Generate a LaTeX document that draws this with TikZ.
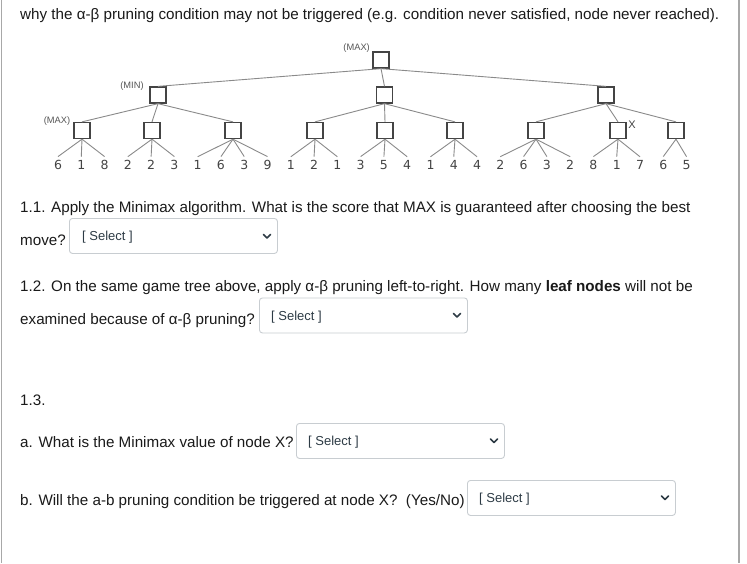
\documentclass[tikz,border=0pt]{standalone}
\usepackage{fontspec}
\setmainfont{Liberation Sans}
\newfontfamily\leaffont{DejaVu Sans}
\definecolor{txtc}{HTML}{1A1A1A}
\definecolor{bordc}{HTML}{A8A8A8}
\definecolor{sqc}{HTML}{444444}
\definecolor{edgec}{HTML}{8A8A8A}
\definecolor{lblc}{HTML}{555555}
\definecolor{selbord}{HTML}{C8CDD1}
\definecolor{seltxt}{HTML}{2D3B45}
\tikzset{
  txt/.style={anchor=base west, inner sep=0, text=txtc, font=\fontsize{15.2}{18}\selectfont},
  sq/.style={draw=sqc, line width=1.3pt, fill=white, minimum size=16pt, inner sep=0},
  leaf/.style={text=sqc, font=\leaffont\fontsize{12.5}{14}\selectfont, inner xsep=1pt, inner ysep=3.5pt},
  tlabel/.style={text=lblc, font=\fontsize{9.3}{10}\selectfont, inner sep=0},
  edge/.style={draw=edgec, line width=0.9pt},
  selbox/.style={draw=selbord, line width=0.9pt, rounded corners=3pt, fill=white, minimum width=208pt, minimum height=35pt, anchor=north west, inner sep=0},
  seltext/.style={anchor=base west, inner sep=0, text=seltxt, font=\fontsize{13}{15}\selectfont},
  chev/.style={draw=seltxt, line width=1.7pt, line cap=round, line join=round}
}
\begin{document}
\begin{tikzpicture}[x=1pt,y=-1pt]
\useasboundingbox (0,0) rectangle (747,563);
\fill[white] (0,0) rectangle (747,563);
\draw[bordc, line width=1.5pt] (1.5,0) -- (1.5,563);
\draw[bordc, line width=1.5pt] (739,0) -- (739,563);

\node[txt] (t0) at (20,19) {why the α-β pruning condition may not be triggered (e.g. condition never satisfied, node never reached).};

% tree
\node[sq] (r) at (381,60) {};
\node[tlabel, anchor=east] (rl) at (370,48.5) {(MAX)};
\node[sq] (n1) at (158,95) {};
\node[sq] (n2) at (384.5,95) {};
\node[sq] (n3) at (606,95) {};
\node[tlabel] (n1l) at (132,86) {(MIN)};
\foreach \i/\x in {1/82,2/152,3/233,4/315,5/385,6/455,7/536,8/618,9/676} {
  \node[sq] (m\i) at (\x,130.5) {};
}
\node[tlabel] (m1l) at (57,121) {(MAX)};
\node[text=sqc, font=\fontsize{11}{12}\selectfont, inner sep=0] (xl) at (632,125) {X};

\foreach \c in {n1,n2,n3} { \draw[edge] (r.south) -- (\c.north); }
\foreach \c in {m1,m2,m3} { \draw[edge] (n1.south) -- (\c.north); }
\foreach \c in {m4,m5,m6} { \draw[edge] (n2.south) -- (\c.north); }
\foreach \c in {m7,m8,m9} { \draw[edge] (n3.south) -- (\c.north); }

\foreach \v [count=\k from 0] in {6,1,8,2,2,3,1,6,3,9,1,2,1,3,5,4,1,4,4,2,6,3,2,8,1,7,6,5} {
  \node[leaf] (l\k) at ({58+23.28*\k},165) {\v};
}
\foreach \p/\a/\b in {m1/0/2,m2/3/5,m3/6/9,m4/10/12,m5/13/15,m6/16/18,m7/19/22,m8/23/25,m9/26/27} {
  \foreach \k in {\a,...,\b} { \draw[edge] (\p.south) -- (l\k.north); }
}

% question 1.1
\node[txt] (q1) at (20,212) {1.1. Apply the Minimax algorithm. What is the score that MAX is guaranteed after choosing the best};
\node[txt] (q1b) at (20,245.5) {move?};
\node[selbox] (s1) at (69,218) {};
\node[seltext] (s1t) at (82,240.5) {[ Select ]};
\draw[chev] (263.5,234.5) -- (267,238) -- (270.5,234.5);

% question 1.2
\node[txt] (q2) at (20,291) {1.2. On the same game tree above, apply α-β pruning left-to-right. How many \textbf{leaf nodes} will not be};
\node[txt] (q2b) at (20,324) {examined because of α-β pruning?};
\node[selbox] (s2) at (259,297.5) {};
\node[seltext] (s2t) at (271,320) {[ Select ]};
\draw[chev] (453.5,313.5) -- (457,317) -- (460.5,313.5);

% question 1.3
\node[txt] (q3) at (20,405.5) {1.3.};
\node[txt] (q3a) at (20,447.5) {a. What is the Minimax value of node X?};
\node[selbox] (s3) at (296,423) {};
\node[seltext] (s3t) at (308,445) {[ Select ]};
\draw[chev] (490.5,439) -- (494,442.5) -- (497.5,439);
\node[txt] (q3b) at (20,505.5) {b. Will the a-b pruning condition be triggered at node X?\ \ (Yes/No)};
\node[selbox] (s4) at (467,480) {};
\node[seltext] (s4t) at (479,502) {[ Select ]};
\draw[chev] (661.5,496) -- (665,499.5) -- (668.5,496);
\end{tikzpicture}
\end{document}
